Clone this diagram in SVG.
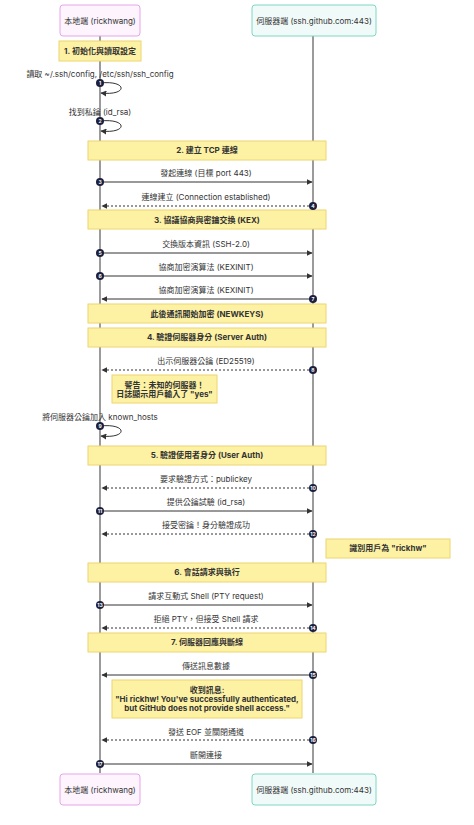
<svg xmlns="http://www.w3.org/2000/svg" width="474" height="825" viewBox="0 0 474 825">
<style>
text{font-family:"Inter","Noto Sans CJK TC","DejaVu Sans",sans-serif;font-size:8px;fill:#333;text-anchor:middle;dominant-baseline:central}
.note rect{fill:#fdf1a4;stroke:#ecd671;stroke-width:1}
.note text{font-weight:bold;fill:#333}
.actL rect{fill:#fdf4fd;stroke:#e4a6ea;stroke-width:1}
.actR rect{fill:#f0fbf9;stroke:#7ed6c4;stroke-width:1}
.life{stroke:#7a7a7a;stroke-width:1.5}
.msg{stroke:#333;stroke-width:1;fill:none}
.dash{stroke-dasharray:2,2}
.num circle{fill:#1c1f3d}
.num text{fill:#fff;font-size:5px;font-weight:bold}
</style>
<defs>
<marker id="ah" viewBox="0 0 10 10" refX="9" refY="5" markerWidth="6" markerHeight="6" orient="auto-start-reverse" markerUnits="userSpaceOnUse">
<path d="M0,0 L10,5 L0,10 z" fill="#333"/>
</marker>
</defs>
<g id="lifelines">
<line class="life" x1="100" y1="36" x2="100" y2="773"/>
<line class="life" x1="313" y1="36" x2="313" y2="773"/>
</g>
<g id="actor-local-top" class="actL"><rect x="60" y="5" width="80" height="31" rx="3"/><text x="100" y="20.5">本地端 (rickhwang)</text></g>
<g id="actor-server-top" class="actR"><rect x="252" y="5" width="124" height="31" rx="3"/><text x="314" y="20.5">伺服器端 (ssh.github.com:443)</text></g>
<g id="actor-local-bottom" class="actL"><rect x="60" y="774" width="80" height="31" rx="3"/><text x="100" y="789.5">本地端 (rickhwang)</text></g>
<g id="actor-server-bottom" class="actR"><rect x="252" y="774" width="124" height="31" rx="3"/><text x="314" y="789.5">伺服器端 (ssh.github.com:443)</text></g>

<g id="note1" class="note"><rect x="59" y="41" width="82" height="20"/><text x="100" y="51">1. 初始化與讀取設定</text></g>
<g id="note2" class="note"><rect x="88" y="141" width="238" height="19"/><text x="207" y="150">2. 建立 TCP 連線</text></g>
<g id="note3" class="note"><rect x="88" y="210" width="238" height="19"/><text x="207" y="220">3. 協議協商與密鑰交換 (KEX)</text></g>
<g id="note-newkeys" class="note"><rect x="88" y="304" width="238" height="19"/><text x="207" y="314">此後通訊開始加密 (NEWKEYS)</text></g>
<g id="note4" class="note"><rect x="88" y="328" width="238" height="19"/><text x="207" y="337">4. 驗證伺服器身分 (Server Auth)</text></g>
<g id="note-warn" class="note"><rect x="112" y="375" width="105" height="28"/><text x="164.5" y="385">警告：未知的伺服器！</text><text x="164.5" y="394">日誌顯示用戶輸入了 "yes"</text></g>
<g id="note5" class="note"><rect x="88" y="446" width="238" height="19"/><text x="207" y="455">5. 驗證使用者身分 (User Auth)</text></g>
<g id="note-user" class="note"><rect x="326" y="539" width="124" height="19"/><text x="388" y="548">識別用戶為 "rickhw"</text></g>
<g id="note6" class="note"><rect x="88" y="563" width="238" height="19"/><text x="207" y="572">6. 會話請求與執行</text></g>
<g id="note7" class="note"><rect x="88" y="633" width="238" height="19"/><text x="207" y="642">7. 伺服器回應與斷線</text></g>
<g id="note-msg" class="note"><rect x="112" y="680" width="190" height="38"/><text x="207" y="690">收到訊息:</text><text x="207" y="699">"Hi rickhw! You've successfully authenticated,</text><text x="207" y="708">but GitHub does not provide shell access."</text></g>

<g id="connectors">
<text x="100" y="74">讀取 ~/.ssh/config, /etc/ssh/ssh_config</text>
<path class="msg" d="M100,83 C128,80 128,96 101,93" marker-end="url(#ah)"/>
<text x="100" y="112">找到私鑰 (id_rsa)</text>
<path class="msg" d="M100,121 C128,118 128,134 101,131" marker-end="url(#ah)"/>
<text x="206" y="173">發起連線 (目標 port 443)</text>
<line class="msg" x1="100" y1="182" x2="312" y2="182" marker-end="url(#ah)"/>
<text x="206" y="197">連線建立 (Connection established)</text>
<line class="msg dash" x1="313" y1="206" x2="102" y2="206" marker-end="url(#ah)"/>
<text x="206" y="244">交換版本資訊 (SSH-2.0)</text>
<line class="msg" x1="100" y1="253" x2="312" y2="253" marker-end="url(#ah)"/>
<text x="206" y="267">協商加密演算法 (KEXINIT)</text>
<line class="msg" x1="100" y1="276" x2="312" y2="276" marker-end="url(#ah)"/>
<text x="206" y="290">協商加密演算法 (KEXINIT)</text>
<line class="msg" x1="313" y1="299" x2="102" y2="299" marker-end="url(#ah)"/>
<text x="206" y="361">出示伺服器公鑰 (ED25519)</text>
<line class="msg dash" x1="313" y1="370" x2="102" y2="370" marker-end="url(#ah)"/>
<text x="100" y="417">將伺服器公鑰加入 known_hosts</text>
<path class="msg" d="M100,426 C128,423 128,439 101,436" marker-end="url(#ah)"/>
<text x="206" y="479">要求驗證方式：publickey</text>
<line class="msg dash" x1="313" y1="488" x2="102" y2="488" marker-end="url(#ah)"/>
<text x="206" y="502">提供公鑰試驗 (id_rsa)</text>
<line class="msg" x1="100" y1="511" x2="312" y2="511" marker-end="url(#ah)"/>
<text x="206" y="525">接受密鑰！身分驗證成功</text>
<line class="msg dash" x1="313" y1="534" x2="102" y2="534" marker-end="url(#ah)"/>
<text x="206" y="596">請求互動式 Shell (PTY request)</text>
<line class="msg" x1="100" y1="605" x2="312" y2="605" marker-end="url(#ah)"/>
<text x="206" y="619">拒絕 PTY，但接受 Shell 請求</text>
<line class="msg dash" x1="313" y1="628" x2="102" y2="628" marker-end="url(#ah)"/>
<text x="206" y="666">傳送訊息數據</text>
<line class="msg" x1="313" y1="675" x2="102" y2="675" marker-end="url(#ah)"/>
<text x="206" y="732">發送 EOF 並關閉通道</text>
<line class="msg dash" x1="313" y1="740" x2="102" y2="740" marker-end="url(#ah)"/>
<text x="206" y="755">斷開連接</text>
<line class="msg" x1="100" y1="764" x2="312" y2="764" marker-end="url(#ah)"/>
</g>

<g id="sequence-numbers" class="num">
<circle cx="100" cy="83" r="4"/><text x="100" y="83">1</text>
<circle cx="100" cy="121" r="4"/><text x="100" y="121">2</text>
<circle cx="100" cy="182" r="4"/><text x="100" y="182">3</text>
<circle cx="313" cy="206" r="4"/><text x="313" y="206">4</text>
<circle cx="100" cy="253" r="4"/><text x="100" y="253">5</text>
<circle cx="100" cy="276" r="4"/><text x="100" y="276">6</text>
<circle cx="313" cy="299" r="4"/><text x="313" y="299">7</text>
<circle cx="313" cy="370" r="4"/><text x="313" y="370">8</text>
<circle cx="100" cy="426" r="4"/><text x="100" y="426">9</text>
<circle cx="313" cy="488" r="4"/><text x="313" y="488">10</text>
<circle cx="100" cy="511" r="4"/><text x="100" y="511">11</text>
<circle cx="313" cy="534" r="4"/><text x="313" y="534">12</text>
<circle cx="100" cy="605" r="4"/><text x="100" y="605">13</text>
<circle cx="313" cy="628" r="4"/><text x="313" y="628">14</text>
<circle cx="313" cy="675" r="4"/><text x="313" y="675">15</text>
<circle cx="313" cy="740" r="4"/><text x="313" y="740">16</text>
<circle cx="100" cy="764" r="4"/><text x="100" y="764">17</text>
</g>
</svg>
